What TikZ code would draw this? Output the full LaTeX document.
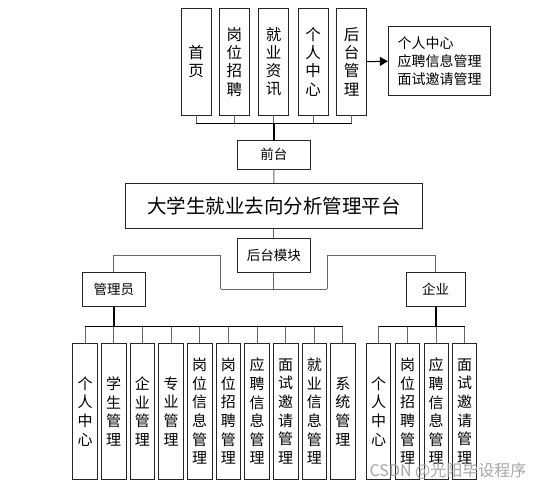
\documentclass[tikz,border=0pt]{standalone}
\usepackage{fontspec}
\newfontfamily\cjk{Noto Sans CJK SC}
\usetikzlibrary{arrows.meta}
\begin{document}
\begin{tikzpicture}[x=1pt,y=-1pt,
  box/.style={draw=black!85,line width=0.9pt,fill=white,inner sep=0pt,align=center},
  topbox/.style={box,minimum width=30,minimum height=106.7,font={\cjk\fontsize{15.5}{18.3}\selectfont}},
  midbox/.style={box,font={\cjk\fontsize{13.5}{16}\selectfont}},
  lowbox/.style={box,minimum width=24.7,minimum height=136,font={\cjk\fontsize{15}{18.6}\selectfont}},
  thin/.style={draw=black!60,line width=0.9pt},
  bus/.style={draw=black,line width=0.9pt},
  stem/.style={draw=black,line width=2pt}]
\useasboundingbox (0,0) rectangle (560,489);
% top row
\node[topbox] (t1) at (196,61.7) {首\\页};
\node[topbox] (t2) at (234.3,61.7) {岗\\位\\招\\聘};
\node[topbox] (t3) at (273.7,61.7) {就\\业\\资\\讯};
\node[topbox] (t4) at (313,61.7) {个\\人\\中\\心};
\node[topbox] (t5) at (351.7,61.7) {后\\台\\管\\理};
\node[box,minimum width=102.4,minimum height=69,align=left,font={\cjk\fontsize{14}{18.3}\selectfont}] (side) at (439.5,61.2) {个人中心\\应聘信息管理\\面试邀请管理};
\draw[black,line width=1pt,-{Triangle[length=8pt,width=9pt]}] (t5.east) -- (side.west);
\node[midbox,minimum width=72.3,minimum height=29] (qt) at (273.9,154.5) {前台};
\node[box,minimum width=297,minimum height=45,font={\cjk\fontsize{19.5}{22}\selectfont}] (main) at (273.8,205.8) {大学生就业去向分析管理平台};
\node[midbox,minimum width=73,minimum height=34] (hm) at (273.8,255.3) {后台模块};
\node[midbox,minimum width=62.3,minimum height=34.4] (gl) at (113.9,289.5) {管理员};
\node[midbox,minimum width=59,minimum height=34.4] (qy) at (435.5,289.5) {企业};
% bottom admin boxes
\node[lowbox] (a1) at (85,411.3) {个\\人\\中\\心};
\node[lowbox] (a2) at (113.7,411.3) {学\\生\\管\\理};
\node[lowbox] (a3) at (142.3,411.3) {企\\业\\管\\理};
\node[lowbox] (a4) at (171,411.3) {专\\业\\管\\理};
\node[lowbox] (a5) at (199.7,411.3) {岗\\位\\信\\息\\管\\理};
\node[lowbox] (a6) at (228.3,411.3) {岗\\位\\招\\聘\\管\\理};
\node[lowbox] (a7) at (257,411.3) {应\\聘\\信\\息\\管\\理};
\node[lowbox] (a8) at (285.7,411.3) {面\\试\\邀\\请\\管\\理};
\node[lowbox] (a9) at (314.3,411.3) {就\\业\\信\\息\\管\\理};
\node[lowbox] (a10) at (342.8,411.3) {系\\统\\管\\理};
% bottom company boxes
\node[lowbox,minimum width=24] (c1) at (378.7,411.3) {个\\人\\中\\心};
\node[lowbox,minimum width=24] (c2) at (407.7,411.3) {岗\\位\\招\\聘\\管\\理};
\node[lowbox,minimum width=24] (c3) at (436.2,411.3) {应\\聘\\信\\息\\管\\理};
\node[lowbox,minimum width=24] (c4) at (464.7,411.3) {面\\试\\邀\\请\\管\\理};
% top connectors
\coordinate (bT) at (0,123.3);
\foreach \n in {t1,t2,t3,t4,t5} \draw[thin] (\n.south) -- (\n.south |- bT);
\draw[bus] (t1.south |- bT) -- (t5.south |- bT);
\draw[stem] (qt.north |- bT) -- (qt.north);
\draw[thin] (qt.south) -- (main.north);
\draw[thin] (main.south) -- (hm.north);
% back-end branches
\coordinate (j1) at (220.7,289);
\coordinate (j2) at (327.3,289);
\coordinate (u) at (0,255);
\draw[thin] (hm.south) -- (hm.south |- j1);
\draw[thin] (j1) -- (j2);
\draw[thin] (j1) -- (j1 |- u) -| (gl.north);
\draw[thin] (j2) -- (j2 |- u) -| (qy.north);
% admin bus
\coordinate (bA) at (0,326);
\draw[stem] (gl.south) -- (gl.south |- bA);
\foreach \n in {a1,a2,a3,a4,a5,a6,a7,a8,a9,a10} \draw[thin] (\n.north |- bA) -- (\n.north);
\draw[bus] (a1.north |- bA) -- (a10.north |- bA);
% company bus
\draw[stem] (qy.south) -- (qy.south |- bA);
\foreach \n in {c1,c2,c3,c4} \draw[thin] (\n.north |- bA) -- (\n.north);
\draw[bus] (c1.north |- bA) -- (c4.north |- bA);
% watermark
\node[text=black!35,font={\cjk\fontsize{16}{18}\selectfont},inner sep=0pt] (wm) at (448,471) {CSDN @光阳毕设程序};
\end{tikzpicture}
\end{document}
